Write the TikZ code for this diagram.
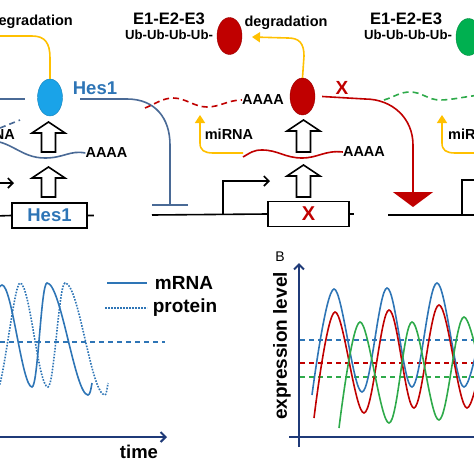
\documentclass[tikz,border=0pt]{standalone}
\usepackage{fontspec}
\setmainfont{Liberation Sans}
\usetikzlibrary{arrows.meta,shapes.geometric}

\definecolor{hesblue}{HTML}{2E75B6}
\definecolor{lightblue}{HTML}{1AA3E8}
\definecolor{slate}{HTML}{4A6A96}
\definecolor{yel}{HTML}{FFC000}
\definecolor{darkred}{HTML}{C00000}
\definecolor{grn}{HTML}{00B050}
\definecolor{curvegrn}{HTML}{2EAA4A}
\definecolor{navy}{HTML}{1F3A78}

\newcommand{\fsz}[1]{\fontsize{#1}{#1}\selectfont\bfseries}

\tikzset{
  prot/.style={ellipse, draw=#1!80!black, fill=#1, minimum width=25pt, minimum height=37pt, inner sep=0pt},
  genebox/.style={rectangle, draw, line width=1.6pt, fill=white, minimum height=25pt, inner sep=0pt},
  label/.style={inner sep=0pt, font=\fsz{14.5}},
  blockline/.style={line width=1.6pt, fill=white, line join=miter},
  yelarrow/.style={yel, line width=1.6pt, -{Triangle[length=8pt,width=10pt]}},
  wave/.style={line width=1.6pt},
  axis/.style={navy, line width=2pt}
}

% open block arrow: x centre, apex y, bottom y
\newcommand{\blockarrow}[3]{%
  \draw[blockline] (#1,#2) -- (#1+16.5,#2+11) -- (#1+7,#2+11) -- (#1+7,#3)
    -- (#1-7,#3) -- (#1-7,#2+11) -- (#1-16.5,#2+11) -- cycle;}

\begin{document}
\begin{tikzpicture}[x=1pt, y=-1pt]
\useasboundingbox (0,0) rectangle (474,474);
\clip (0,0) rectangle (474,474);

% ---- Hes1 panel (left)
\node[label, anchor=east] (degleft) at (73,22) {degradation};
\node[prot=lightblue] (hes1p) at (50,97.5) {};
\node[inner sep=0pt, font=\fsz{18.5}, text=hesblue] (hes1lab) at (95,88) {Hes1};
\node[label, anchor=east] (mirleft) at (15,134) {miRNA};
\node[label] (polyleft) at (106.5,153) {AAAA};
\node[genebox, minimum width=75pt, font=\fsz{18.5}, text=hesblue] (hes1gene) at (49.5,215.5) {Hes1};

\coordinate (degtipL) at (-10,36);
\coordinate (hesrep) at (80,99);
\coordinate (barend) at (170,206);

\draw[yelarrow] (hes1p.north) -- (50,58) .. controls (50,43) and (45,36) .. (32,36) -- (degtipL);
\draw[slate, line width=1.6pt] (-5,99) -- (25,99);
\draw[slate, line width=1.6pt, dash pattern=on 6pt off 4pt] (0,128) -- (20,120);
\draw[slate, wave] (-15,140) .. controls (12,140) and (20,158) .. (45,158)
                   .. controls (64,158) and (70,150) .. (polyleft.west);
\draw[slate, line width=1.6pt, -{Bar[width=36pt, line width=1.6pt]}] (hesrep) -- (127,99)
     .. controls (155,99) and (170,118) .. (170,145) -- (barend);
\blockarrow{48.5}{122}{152}
\blockarrow{48.5}{167}{197}
\draw[line width=1.6pt, -{Straight Barb[length=5pt,width=10pt]}] (-10,183) -- (14,183);
\draw[line width=1.6pt] (-5,216) -- (hes1gene.west) (hes1gene.east) -- ++(6,0);

% ---- gene X panel (middle)
\node[inner sep=0pt, font=\fsz{16.6}] (e123mid) at (169,19) {E1-E2-E3};
\node[inner sep=0pt, font=\fsz{13.2}] (ubmid) at (169,35) {Ub-Ub-Ub-Ub-};
\node[prot=darkred] (ubprot) at (229.5,36) {};
\node[label] (degmid) at (286,23) {degradation};
\node[label] (polydeg) at (263,100) {AAAA};
\node[prot=darkred] (xprot) at (302.5,96.5) {};
\node[inner sep=0pt, font=\fsz{19}, text=darkred] (xlab) at (342,88) {X};
\node[label] (mirmid) at (229,134) {miRNA};
\node[label] (polymid) at (364,152) {AAAA};
\node[genebox, minimum width=81pt, font=\fsz{20}, text=darkred] (xgene) at (308.5,214) {X};

\coordinate (degtip) at (252,37);
\coordinate (mirtip) at (200,115);
\coordinate (xact) at (413,207);

\draw[yelarrow] (xprot.north) -- (304,56) .. controls (304,43) and (299,38) .. (288,38) -- (degtip);
\draw[darkred, wave, dash pattern=on 6pt off 4pt] (145,108) .. controls (155,104) and (163,98) .. (173,98)
     .. controls (186,98) and (194,107) .. (207,107) .. controls (220,107) and (228,100) .. (polydeg.west);
\draw[darkred, wave] (243,157) .. controls (250,153) and (253,150) .. (262,150)
     .. controls (278,150) and (285,158) .. (302,158) .. controls (318,158) and (325,150) .. (polymid.west);
\draw[yelarrow] (243,153) -- (213,153) .. controls (204,153) and (200,150) .. (200,143) -- (mirtip);
\draw[darkred, line width=1.6pt, -{Triangle[length=15pt,width=40pt]}] ([xshift=7pt]xprot.east) -- (365,99)
     .. controls (392,99) and (413,118) .. (413,145) -- (xact);
\blockarrow{303.5}{120}{152}
\blockarrow{303.5}{165}{197}
\draw[line width=1.6pt] (152,215) -- (xgene.west) (xgene.east) -- ++(4,0);
\draw[line width=1.6pt, -{Straight Barb[length=5pt,width=10pt]}] (223,215) -- (223,181) -- (270,181);

% ---- third gene (right, cut off)
\node[inner sep=0pt, font=\fsz{16.6}] (e123right) at (406,19) {E1-E2-E3};
\node[inner sep=0pt, font=\fsz{13.2}] (ubright) at (408,35) {Ub-Ub-Ub-Ub-};
\node[prot=grn] (grnprot) at (468.5,37) {};
\node[label, anchor=west] (mirright) at (448,134) {miRNA};
\coordinate (mirtipR) at (442,115);
\draw[curvegrn, wave, dash pattern=on 6pt off 4pt] (384,100) .. controls (394,97) and (400,92) .. (410,92)
     .. controls (422,92) and (428,100) .. (440,100) .. controls (452,100) and (462,97) .. (480,95);
\draw[yelarrow] (480,153) -- (455,153) .. controls (446,153) and (442,150) .. (442,143) -- (mirtipR);
\draw[line width=1.6pt] (388,215) -- (480,215);
\draw[line width=1.6pt] (462,215) -- (462,180) -- (480,180);

% ---- Hes1 oscillation (bottom left)
\node[inner sep=0pt, font=\fsz{19}] (mrnaleg) at (184,283) {mRNA};
\node[inner sep=0pt, font=\fsz{19}] (protleg) at (185,308) {protein};
\node[inner sep=0pt, font=\fsz{18.5}] (timelab) at (139,452) {time};
\draw[hesblue, wave] (107,283) -- (mrnaleg.west -| 147,283);
\draw[hesblue, wave, dash pattern=on 1.6pt off 1.4pt] (105,308) -- (147,308);
\draw[hesblue, line width=1.2pt, dash pattern=on 5pt off 4pt] (0,342) -- (165,342);
\draw[hesblue, wave] (-30,385) .. controls (-15,385) and (-9,285) .. (2,285)
     .. controls (12,285) and (22,387) .. (32,387)
     .. controls (38,387) and (41,283) .. (47,283)
     .. controls (61,283) and (75,395) .. (88,395)
     .. controls (90,395) and (91,389) .. (92,383);
\draw[hesblue, wave, dash pattern=on 1.6pt off 1.4pt] (-3,390) .. controls (3,390) and (14,283) .. (20,283)
     .. controls (30,283) and (38,387) .. (48,387)
     .. controls (54,387) and (59,283) .. (65,283)
     .. controls (79,283) and (91,395) .. (105,395)
     .. controls (106,395) and (107,390) .. (108,383);
\draw[axis, -{Straight Barb[length=5pt,width=10pt]}] (-5,437) -- (167,437);

% ---- B panel (bottom right)
\node[inner sep=0pt, font=\fontsize{14}{14}\selectfont] (blab) at (280,257) {B};
\node[inner sep=0pt, font=\fsz{19}, rotate=90] (ylab) at (282,346) {expression level};
\draw[hesblue, line width=1.2pt, dash pattern=on 5pt off 4pt] (300,340) -- (480,340);
\draw[darkred, line width=1.2pt, dash pattern=on 5pt off 4pt] (300,363) -- (480,363);
\draw[curvegrn, line width=1.2pt, dash pattern=on 5pt off 4pt] (300,377) -- (480,377);
\draw[hesblue, wave] plot[smooth, tension=0.6] coordinates {(312,395) (334,289) (362,392) (387,288) (412,387) (437,283) (464,387) (489,283)};
\draw[darkred, wave] plot[smooth, tension=0.6] coordinates {(314,418) (335,312) (364,413) (389,310) (414,408) (439,305) (467,408) (491,305)};
\draw[curvegrn, wave] plot[smooth, tension=0.6] coordinates {(339,428) (360,322) (389,423) (412,322) (439,420) (464,317) (490,420)};
\draw[axis, -{Straight Barb[length=5pt,width=10pt]}] (299,447) -- (299,263);
\draw[axis] (289,437) -- (480,437);
\end{tikzpicture}
\end{document}
